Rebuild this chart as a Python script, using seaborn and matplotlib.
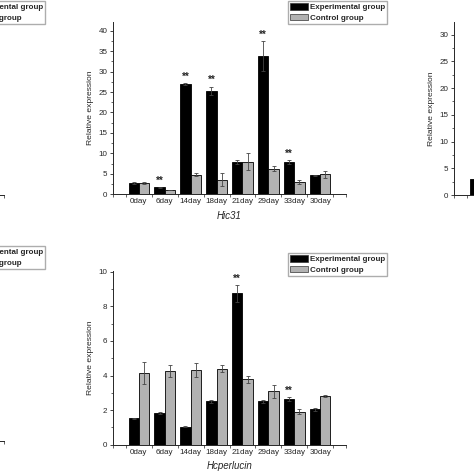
import numpy as np
import pandas as pd
import matplotlib
matplotlib.use('Agg')
import matplotlib.pyplot as plt
import matplotlib.ticker as mticker
from matplotlib.patches import Patch
import seaborn as sns

sns.set_style('ticks')
plt.rcParams['font.family'] = ['Liberation Sans', 'DejaVu Sans']

# ---- data ----
days = ['0day', '6day', '14day', '18day', '21day', '29day', '33day', '30day']
groups = ['Experimental group', 'Control group']

hic31_exp = [2.7, 1.7, 27.0, 25.3, 8.0, 33.8, 7.8, 4.6]
hic31_exp_err = [0.2, 0.15, 0.2, 1.0, 0.5, 3.6, 0.5, 0.1]
hic31_ctrl = [2.8, 1.05, 4.8, 3.6, 8.0, 6.3, 2.9, 4.9]
hic31_ctrl_err = [0.25, 0.1, 0.4, 1.6, 2.1, 0.7, 0.5, 0.8]
hic31_sig = ['', '**', '**', '**', '', '**', '**', '']

hcp_exp = [1.52, 1.85, 1.05, 2.5, 8.75, 2.5, 2.62, 2.05]
hcp_exp_err = [0.03, 0.05, 0.02, 0.08, 0.47, 0.06, 0.12, 0.1]
hcp_ctrl = [4.13, 4.25, 4.3, 4.4, 3.78, 3.08, 1.92, 2.8]
hcp_ctrl_err = [0.63, 0.35, 0.4, 0.22, 0.2, 0.4, 0.12, 0.05]
hcp_sig = ['', '', '', '', '**', '', '**', '']

# neighbouring panel on the right, only its first bar is in view
right_exp = [2.9]
right_ctrl = [3.0]

colors = ['black', '#b2b2b2']
W, H = 474, 474
FS = 5.8


def px_axes(fig, x0, y0, x1, y1):
    # axes placed from pixel box (top-left origin)
    return fig.add_axes([x0 / W, 1 - y1 / H, (x1 - x0) / W, (y1 - y0) / H])


def style_axes(ax, ymax, major, minor, labels=True):
    sns.despine(ax=ax)
    ax.set_xlim(-1, 8)
    ax.set_ylim(0, ymax)
    ax.yaxis.set_major_locator(mticker.MultipleLocator(major))
    ax.yaxis.set_minor_locator(mticker.MultipleLocator(minor))
    ax.tick_params(axis='y', which='major', length=2.5, width=0.6, labelsize=FS, pad=1.5)
    ax.tick_params(axis='y', which='minor', length=1.5, width=0.5)
    ax.set_xticks(range(len(days)))
    ax.set_xticklabels(days)
    ax.set_xticks(np.arange(-1, 8.01, 0.5)[1::2].tolist() + [-1, 8], minor=True)
    ax.tick_params(axis='x', which='major', length=0, labelsize=FS, pad=3,
                   labelbottom=labels)
    ax.tick_params(axis='x', which='minor', length=2, width=0.5)
    for s in ['left', 'bottom']:
        ax.spines[s].set_linewidth(0.7)
    ax.set_ylabel('Relative expression', fontsize=FS + 0.3, labelpad=3)


def draw_panel(ax, exp, exp_err, ctrl, ctrl_err, sig):
    n = len(exp)
    df = pd.DataFrame({
        'day': days[:n] * 2,
        'value': list(exp) + list(ctrl),
        'group': [groups[0]] * n + [groups[1]] * n,
    })
    sns.barplot(data=df, x='day', y='value', hue='group', order=days,
                hue_order=groups, palette=colors, edgecolor='black',
                linewidth=0.6, errorbar=None, legend=False, ax=ax)
    if exp_err is None:
        return
    for cont, errs in zip(ax.containers, [exp_err, ctrl_err]):
        xs = [b.get_x() + b.get_width() / 2 for b in cont]
        ys = [b.get_height() for b in cont]
        ax.errorbar(xs, ys, yerr=errs, fmt='none', ecolor='#444444',
                    elinewidth=0.6, capsize=1.2, capthick=0.6)
    for b, e, s in zip(ax.containers[0], exp_err, sig):
        if s:
            ax.annotate(s, (b.get_x() + b.get_width() / 2, b.get_height() + e),
                        xytext=(0, 1), textcoords='offset points',
                        ha='center', va='bottom', fontsize=7, fontweight='bold')


def add_legend(fig, x, y, loc):
    handles = [Patch(facecolor=c, edgecolor='#333333', linewidth=0.5) for c in colors]
    fig.legend(handles, groups, loc=loc, bbox_to_anchor=(x / W, 1 - y / H),
               frameon=True, fancybox=False, edgecolor='#999999',
               borderpad=0.25, labelspacing=0.3, handlelength=2.2,
               handleheight=0.9, handletextpad=0.3, borderaxespad=0,
               prop={'weight': 'bold', 'size': FS})


fig = plt.figure(figsize=(W / 100, H / 100), dpi=100)

# top centre: Hic31
ax1 = px_axes(fig, 113, 21.7, 346, 194.3)
draw_panel(ax1, hic31_exp, hic31_exp_err, hic31_ctrl, hic31_ctrl_err, hic31_sig)
style_axes(ax1, 42.2, 5, 2.5)
ax1.set_xlabel('Hic31', fontsize=7, style='italic', labelpad=4)

# bottom centre: Hcperlucin
ax2 = px_axes(fig, 113, 271, 346, 444.7)
draw_panel(ax2, hcp_exp, hcp_exp_err, hcp_ctrl, hcp_ctrl_err, hcp_sig)
style_axes(ax2, 10.05, 2, 1)
ax2.set_xlabel('Hcperlucin', fontsize=7, style='italic', labelpad=4)

# top right neighbour panel (partly outside the picture)
ax3 = px_axes(fig, 454, 21.7, 687, 195)
draw_panel(ax3, right_exp, None, right_ctrl, None, None)
style_axes(ax3, 32.4, 5, 2.5, labels=False)
ax3.set_xlabel('')

# left neighbour panels, only the end of their x axis is in view
for y0, y1 in [(21.7, 195), (268, 441)]:
    axl = px_axes(fig, -229, y0, 4, y1)
    style_axes(axl, 10, 2, 1, labels=False)
    axl.tick_params(axis='y', labelleft=False)
    axl.set_ylabel('')
    axl.set_xlabel('')

add_legend(fig, 288, 1, 'upper left')
add_legend(fig, 288, 253, 'upper left')
add_legend(fig, 45, 1, 'upper right')
add_legend(fig, 45, 246, 'upper right')

fig.savefig('out.png', dpi=100)
